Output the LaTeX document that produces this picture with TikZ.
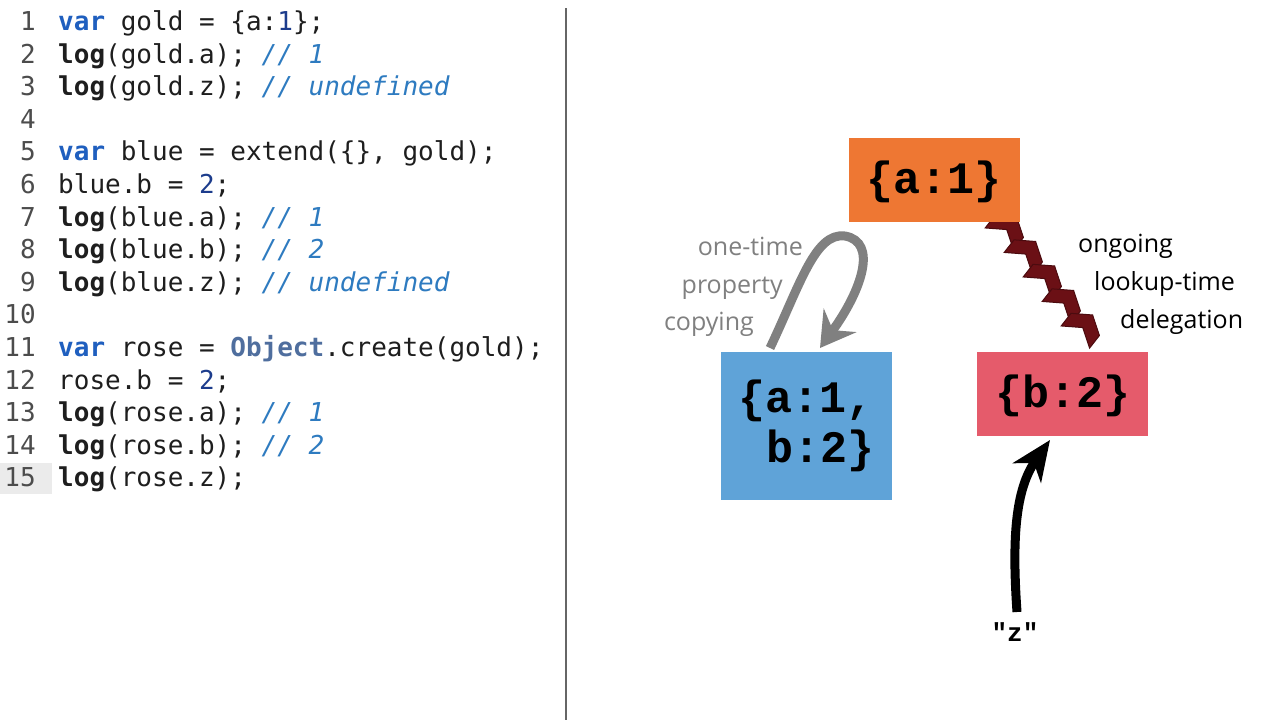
\documentclass[tikz,border=0pt]{standalone}
\usepackage{fontspec}
\setmainfont{Open Sans}
\setmonofont{DejaVu Sans Mono}
\newfontfamily\boxfont{Liberation Mono}
\usetikzlibrary{arrows.meta}
\definecolor{kw}{HTML}{1F5FBF}
\definecolor{num}{HTML}{1C3C8C}
\definecolor{cmt}{HTML}{2E7BC0}
\definecolor{objc}{HTML}{4F6E9E}
\definecolor{codetxt}{HTML}{1E1E1E}
\definecolor{orng}{HTML}{EE7733}
\definecolor{blu}{HTML}{5FA3D8}
\definecolor{pnk}{HTML}{E55B6B}
\definecolor{chev}{HTML}{6B1015}
\definecolor{lblgray}{HTML}{808080}
\tikzset{
  codeline/.style={anchor=base west,inner sep=0pt,font=\fontsize{26}{28}\selectfont\ttfamily,text=codetxt},
  lnum/.style={anchor=base east,inner sep=0pt,font=\fontsize{26}{28}\selectfont\ttfamily,text=black!70},
  objbox/.style={draw=none,inner sep=0pt,font=\fontsize{45}{50}\selectfont\boxfont\bfseries},
  lbl/.style={inner sep=0pt,font=\fontsize{25}{28}\selectfont},
  chevshape/.style={fill=chev,draw=chev!70!black,line width=1pt}
}
\newcommand{\kwd}[1]{\textcolor{kw}{\bfseries #1}}
\newcommand{\lgfn}{\textbf{log}}
\newcommand{\cm}[1]{\textcolor{cmt}{\itshape #1}}
\newcommand{\nm}[1]{\textcolor{num}{#1}}
\begin{document}
\begin{tikzpicture}[x=1pt,y=-1pt]
\useasboundingbox (0,0) rectangle (1280,720);
\fill[white] (0,0) rectangle (1280,720);
% gutter highlight
\fill[black!8] (0,463) rectangle (52,494);
\draw[black!60,line width=2pt] (566,8) -- (566,720);
% code
\foreach \n/\y in {1/30,2/63,3/95,4/128,5/160,6/193,7/226,8/258,9/291,10/323,11/356,12/389,13/421,14/454,15/486}{
  \node[lnum] (ln\n) at (36,\y) {\n};
}
\node[codeline] (c1) at (58,30) {\kwd{var} gold = \{a:\nm{1}\};};
\node[codeline] (c2) at (58,63) {\lgfn(gold.a); \cm{// 1}};
\node[codeline] (c3) at (58,95) {\lgfn(gold.z); \cm{// undefined}};
\node[codeline] (c5) at (58,160) {\kwd{var} blue = extend(\{\}, gold);};
\node[codeline] (c6) at (58,193) {blue.b = \nm{2};};
\node[codeline] (c7) at (58,226) {\lgfn(blue.a); \cm{// 1}};
\node[codeline] (c8) at (58,258) {\lgfn(blue.b); \cm{// 2}};
\node[codeline] (c9) at (58,291) {\lgfn(blue.z); \cm{// undefined}};
\node[codeline] (c11) at (58,356) {\kwd{var} rose = \textcolor{objc}{\bfseries Object}.create(gold);};
\node[codeline] (c12) at (58,389) {rose.b = \nm{2};};
\node[codeline] (c13) at (58,421) {\lgfn(rose.a); \cm{// 1}};
\node[codeline] (c14) at (58,454) {\lgfn(rose.b); \cm{// 2}};
\node[codeline] (c15) at (58,486) {\lgfn(rose.z);};
% chevrons
\foreach \i in {0,...,4}{
  \begin{scope}[shift={({1008+\i*19},{228+\i*24.5})},rotate=52]
    \draw[chevshape] (-14,18) -- (2,18) -- (14,0) -- (2,-18) -- (-14,-18) -- (-2,0) -- cycle;
  \end{scope}
}
% boxes
\fill[orng] (849,138) rectangle (1020,222);
\node[objbox] (gold) at (934.5,182) {\{a:1\}};
\fill[blu] (721,352) rectangle (892,500);
\node[objbox,align=left] (blue) at (806.5,426) {\{a:1,\\\ b:2\}};
\fill[pnk] (977,352) rectangle (1148,436);
\node[objbox] (rose) at (1062.5,396) {\{b:2\}};
% labels
\node[lbl,text=lblgray,anchor=base east] (l1) at (803,255) {one-time};
\node[lbl,text=lblgray,anchor=base east] (l2) at (783,293) {property};
\node[lbl,text=lblgray,anchor=base east] (l3) at (754,330) {copying};
\node[lbl,anchor=base west] (r1) at (1078,252) {ongoing};
\node[lbl,anchor=base west] (r2) at (1094,290) {lookup-time};
\node[lbl,anchor=base west] (r3) at (1120,328) {delegation};
% gray arrow
\coordinate (gs) at (770,348);
\coordinate (ge) at (820,348);
\draw[lblgray,line width=9pt,-{Stealth[length=34pt,width=40pt,inset=12pt]}]
  (gs) .. controls (800,285) and (815,232) .. (845,236) .. controls (878,242) and (862,290) .. (ge);
% black arrow
\node[inner sep=0pt,font=\fontsize{26}{28}\selectfont\boxfont\bfseries] (z) at (1015,632) {"z"};
\coordinate (zs) at (1017,612);
\coordinate (ze) at (1050,440);
\draw[black,line width=9pt,-{Stealth[length=40pt,width=34pt,inset=12pt]}]
  (zs) .. controls (1012,540) and (1015,490) .. (ze);
\end{tikzpicture}
\end{document}
